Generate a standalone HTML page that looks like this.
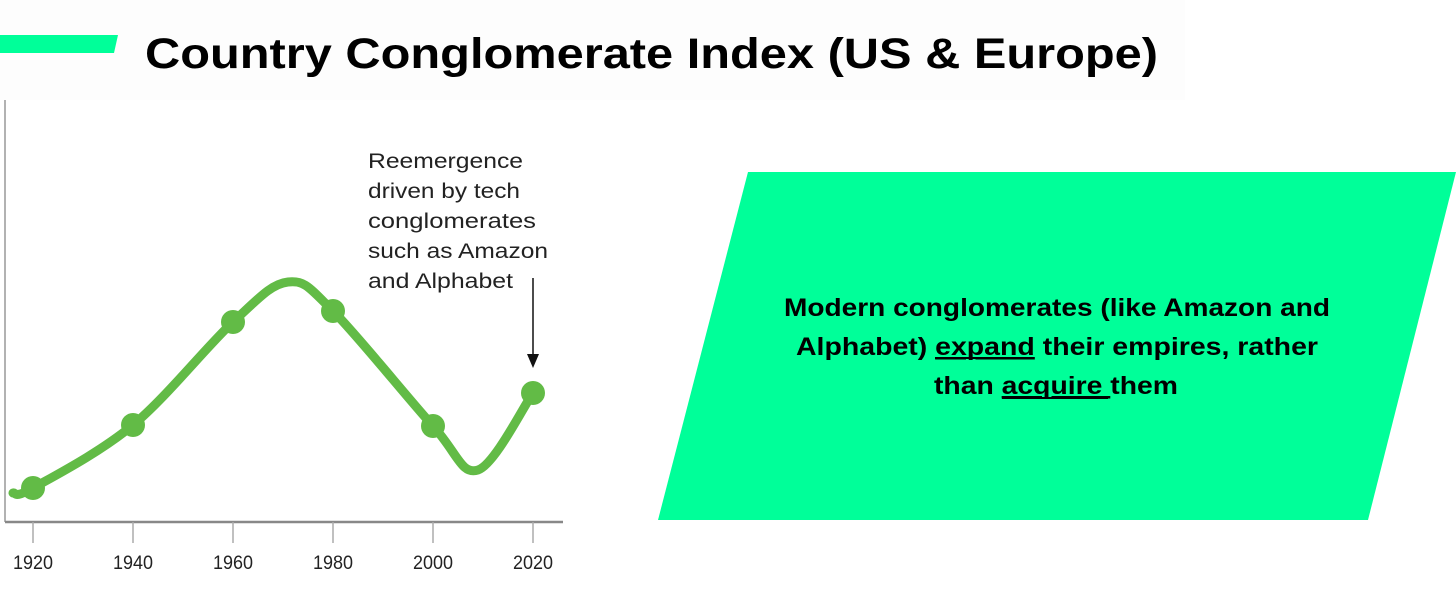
<!DOCTYPE html>
<html><head><meta charset="utf-8">
<style>
html,body{margin:0;padding:0;background:#fff;}
body{width:1456px;height:591px;overflow:hidden;position:relative;font-family:"Liberation Sans",sans-serif;}
svg{position:absolute;left:0;top:0;}
</style></head>
<body>
<svg width="1456" height="591" viewBox="0 0 1456 591">
  <rect x="0" y="0" width="1185" height="100" fill="#fdfdfd"/>
  <polygon points="0,35 118,35 114,53 0,53" fill="#00ff99"/>
  <text x="145" y="68" font-family="Liberation Sans, sans-serif" font-weight="bold" font-size="43" textLength="1013" lengthAdjust="spacingAndGlyphs" fill="#000">Country Conglomerate Index (US &amp; Europe)</text>

  <g id="chart">
    <line x1="5" y1="100" x2="5" y2="522" stroke="#999" stroke-width="1.5"/>
    <line x1="5" y1="522" x2="563" y2="522" stroke="#888" stroke-width="2.5"/>
    <g id="ticks"></g>
    <path id="curve" fill="none" stroke="#62bb46" stroke-width="9" stroke-linecap="round" stroke-linejoin="round"/>
    <g id="markers"></g>
    <g font-family="Liberation Sans, sans-serif" font-size="21" fill="#222">
      <text x="368" y="168" textLength="155" lengthAdjust="spacingAndGlyphs">Reemergence</text>
      <text x="368" y="198" textLength="152" lengthAdjust="spacingAndGlyphs">driven by tech</text>
      <text x="368" y="228" textLength="168" lengthAdjust="spacingAndGlyphs">conglomerates</text>
      <text x="368" y="258" textLength="180" lengthAdjust="spacingAndGlyphs">such as Amazon</text>
      <text x="368" y="288" textLength="145" lengthAdjust="spacingAndGlyphs">and Alphabet</text>
    </g>
    <line x1="533" y1="278" x2="533" y2="358" stroke="#111" stroke-width="1.5"/>
    <polygon points="527,354 539,354 533,368" fill="#111"/>
  </g>

  <polygon points="748,172 1456,172 1368,520 658,520" fill="#00ff99"/>
  <g font-family="Liberation Sans, sans-serif" font-weight="bold" font-size="25" fill="#000" text-anchor="middle">
    <text x="1057" y="316" textLength="546" lengthAdjust="spacingAndGlyphs">Modern conglomerates (like Amazon and</text>
    <text x="1057" y="355" textLength="522" lengthAdjust="spacingAndGlyphs">Alphabet) <tspan text-decoration="underline">expand</tspan> their empires, rather</text>
    <text x="1056" y="394" textLength="244" lengthAdjust="spacingAndGlyphs">than <tspan text-decoration="underline">acquire </tspan>them</text>
  </g>
  <line x1="935" y1="358" x2="1032" y2="358" stroke="#000" stroke-width="2"/>
  <line x1="1002" y1="398" x2="1108" y2="398" stroke="#000" stroke-width="2"/>
</svg>
<script>
const years = [1916, 1920, 1940, 1960, 1971, 1980, 2000, 2009, 2020];
const values = [7.25, 8.5, 24.25, 50, 60, 52.75, 24, 13, 32.25];
const markerYears = [1920, 1940, 1960, 1980, 2000, 2020];
const tickLabels = ["1920", "1940", "1960", "1980", "2000", "2020"];

function xScale(yr){ return 33 + (yr - 1920) * 5; }
function yScale(v){ return 522 - v * 4; }
const NS = "http://www.w3.org/2000/svg";

const pts = years.map((y,i)=>[xScale(y), yScale(values[i])]);
let d = "M" + pts[0][0] + "," + pts[0][1];
for (let i=0;i<pts.length-1;i++){
  const p0 = pts[Math.max(0,i-1)], p1 = pts[i], p2 = pts[i+1], p3 = pts[Math.min(pts.length-1,i+2)];
  const c1x = p1[0] + (p2[0]-p0[0])/6, c1y = p1[1] + (p2[1]-p0[1])/6;
  const c2x = p2[0] - (p3[0]-p1[0])/6, c2y = p2[1] - (p3[1]-p1[1])/6;
  d += " C" + c1x + "," + c1y + " " + c2x + "," + c2y + " " + p2[0] + "," + p2[1];
}
document.getElementById("curve").setAttribute("d", d);

const mg = document.getElementById("markers");
markerYears.forEach(yr=>{
  const i = years.indexOf(yr);
  const c = document.createElementNS(NS, "circle");
  c.setAttribute("cx", xScale(yr));
  c.setAttribute("cy", yScale(values[i]));
  c.setAttribute("r", 12);
  c.setAttribute("fill", "#62bb46");
  
  
  mg.appendChild(c);
});

const tg = document.getElementById("ticks");
tickLabels.forEach(lbl=>{
  const x = xScale(+lbl);
  const l = document.createElementNS(NS, "line");
  l.setAttribute("x1", x); l.setAttribute("x2", x);
  l.setAttribute("y1", 522); l.setAttribute("y2", 543);
  l.setAttribute("stroke", "#aaa"); l.setAttribute("stroke-width", "1.5");
  
  
  tg.appendChild(l);
  const t = document.createElementNS(NS, "text");
  t.setAttribute("x", x); t.setAttribute("y", 569);
  t.setAttribute("text-anchor", "middle");
  t.setAttribute("font-size", "19");
  t.setAttribute("font-family", "Liberation Sans, sans-serif");
  t.setAttribute("fill", "#222");
  t.setAttribute("textLength", "40");
  t.setAttribute("lengthAdjust", "spacingAndGlyphs");
  t.textContent = lbl;
  
  
  tg.appendChild(t);
});
</script>
</body></html>
